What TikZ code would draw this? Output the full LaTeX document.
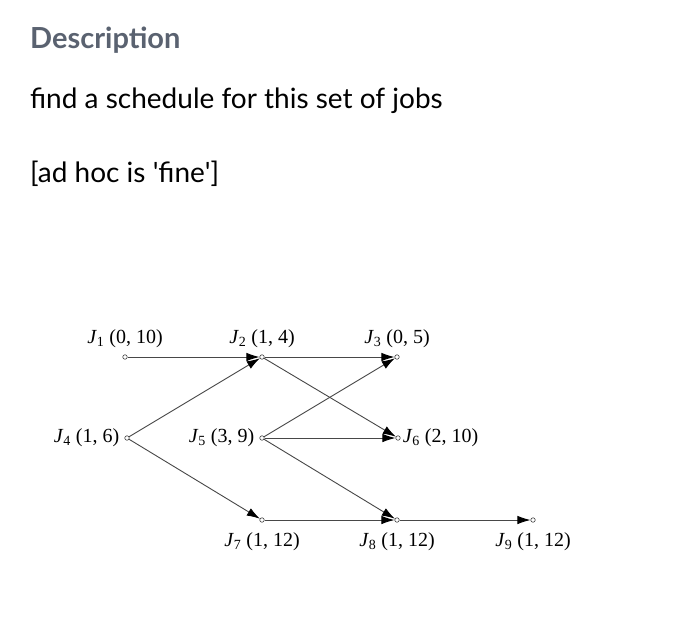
\documentclass[tikz,border=0pt]{standalone}
\usepackage{fontspec}
\setmainfont{Lato}
\newfontfamily\jobfont{Liberation Serif}
\usetikzlibrary{positioning, arrows.meta}
\definecolor{descgray}{RGB}{90,98,112}

\begin{document}
\begin{tikzpicture}[
    x=1pt, y=-1pt, % pixel grid of the page
    node distance=6pt and 4pt,
    % --- STYLES ---
    title/.style={anchor=base west, inner sep=0, text=descgray, font=\fontsize{29}{34}\selectfont\bfseries},
    body/.style={anchor=base west, inner sep=0, font=\fontsize{28}{33}\selectfont},
    job/.style={circle, draw=black!75, fill=white, inner sep=0, minimum size=4.5pt, line width=0.6pt},
    jobname/.style={inner sep=0, font=\jobfont\fontsize{20}{24}\selectfont},
    flow/.style={draw=black!72, line width=0.9pt, -{Latex[length=13pt, width=8.5pt, color=black]}}
]
\useasboundingbox (0,0) rectangle (700,635);

% --- TEXT ---
\node (desc) [title] at (30,48) {Description};
\node (task) [body] at (30,108) {find a schedule for this set of jobs};
\node (note) [body] at (30,182) {[ad hoc is \textquotesingle fine\textquotesingle]};

% --- JOBS ---
\node (j1) [job] at (125,357) {};
\node (j2) [job] at (262,357) {};
\node (j3) [job] at (397,357) {};
\node (j4) [job] at (127,438) {};
\node (j5) [job] at (262,438) {};
\node (j6) [job] at (398,438) {};
\node (j7) [job] at (262,520) {};
\node (j8) [job] at (397,520) {};
\node (j9) [job] at (533,520) {};

% --- JOB NAMES ---
\node (n1) [jobname, above=7pt of j1] {\textit{J}\textsubscript{1} (0, 10)};
\node (n2) [jobname, above=7pt of j2] {\textit{J}\textsubscript{2} (1, 4)};
\node (n3) [jobname, above=7pt of j3] {\textit{J}\textsubscript{3} (0, 5)};
\node (n4) [jobname, left=5pt of j4] {\textit{J}\textsubscript{4} (1, 6)};
\node (n5) [jobname, left=5pt of j5] {\textit{J}\textsubscript{5} (3, 9)};
\node (n6) [jobname, right=2pt of j6] {\textit{J}\textsubscript{6} (2, 10)};
\node (n7) [jobname, below=10pt of j7] {\textit{J}\textsubscript{7} (1, 12)};
\node (n8) [jobname, below=10pt of j8] {\textit{J}\textsubscript{8} (1, 12)};
\node (n9) [jobname, below=10pt of j9] {\textit{J}\textsubscript{9} (1, 12)};

% Precedences
\draw [flow] (j1) -- (j2);
\draw [flow] (j2) -- (j3);
\draw [flow] (j4) -- (j2);
\draw [flow] (j4) -- (j7);
\draw [flow] (j2) -- (j6);
\draw [flow] (j5) -- (j3);
\draw [flow] (j5) -- (j6);
\draw [flow] (j5) -- (j8);
\draw [flow] (j7) -- (j8);
\draw [flow] (j8) -- (j9);

\end{tikzpicture}
\end{document}
